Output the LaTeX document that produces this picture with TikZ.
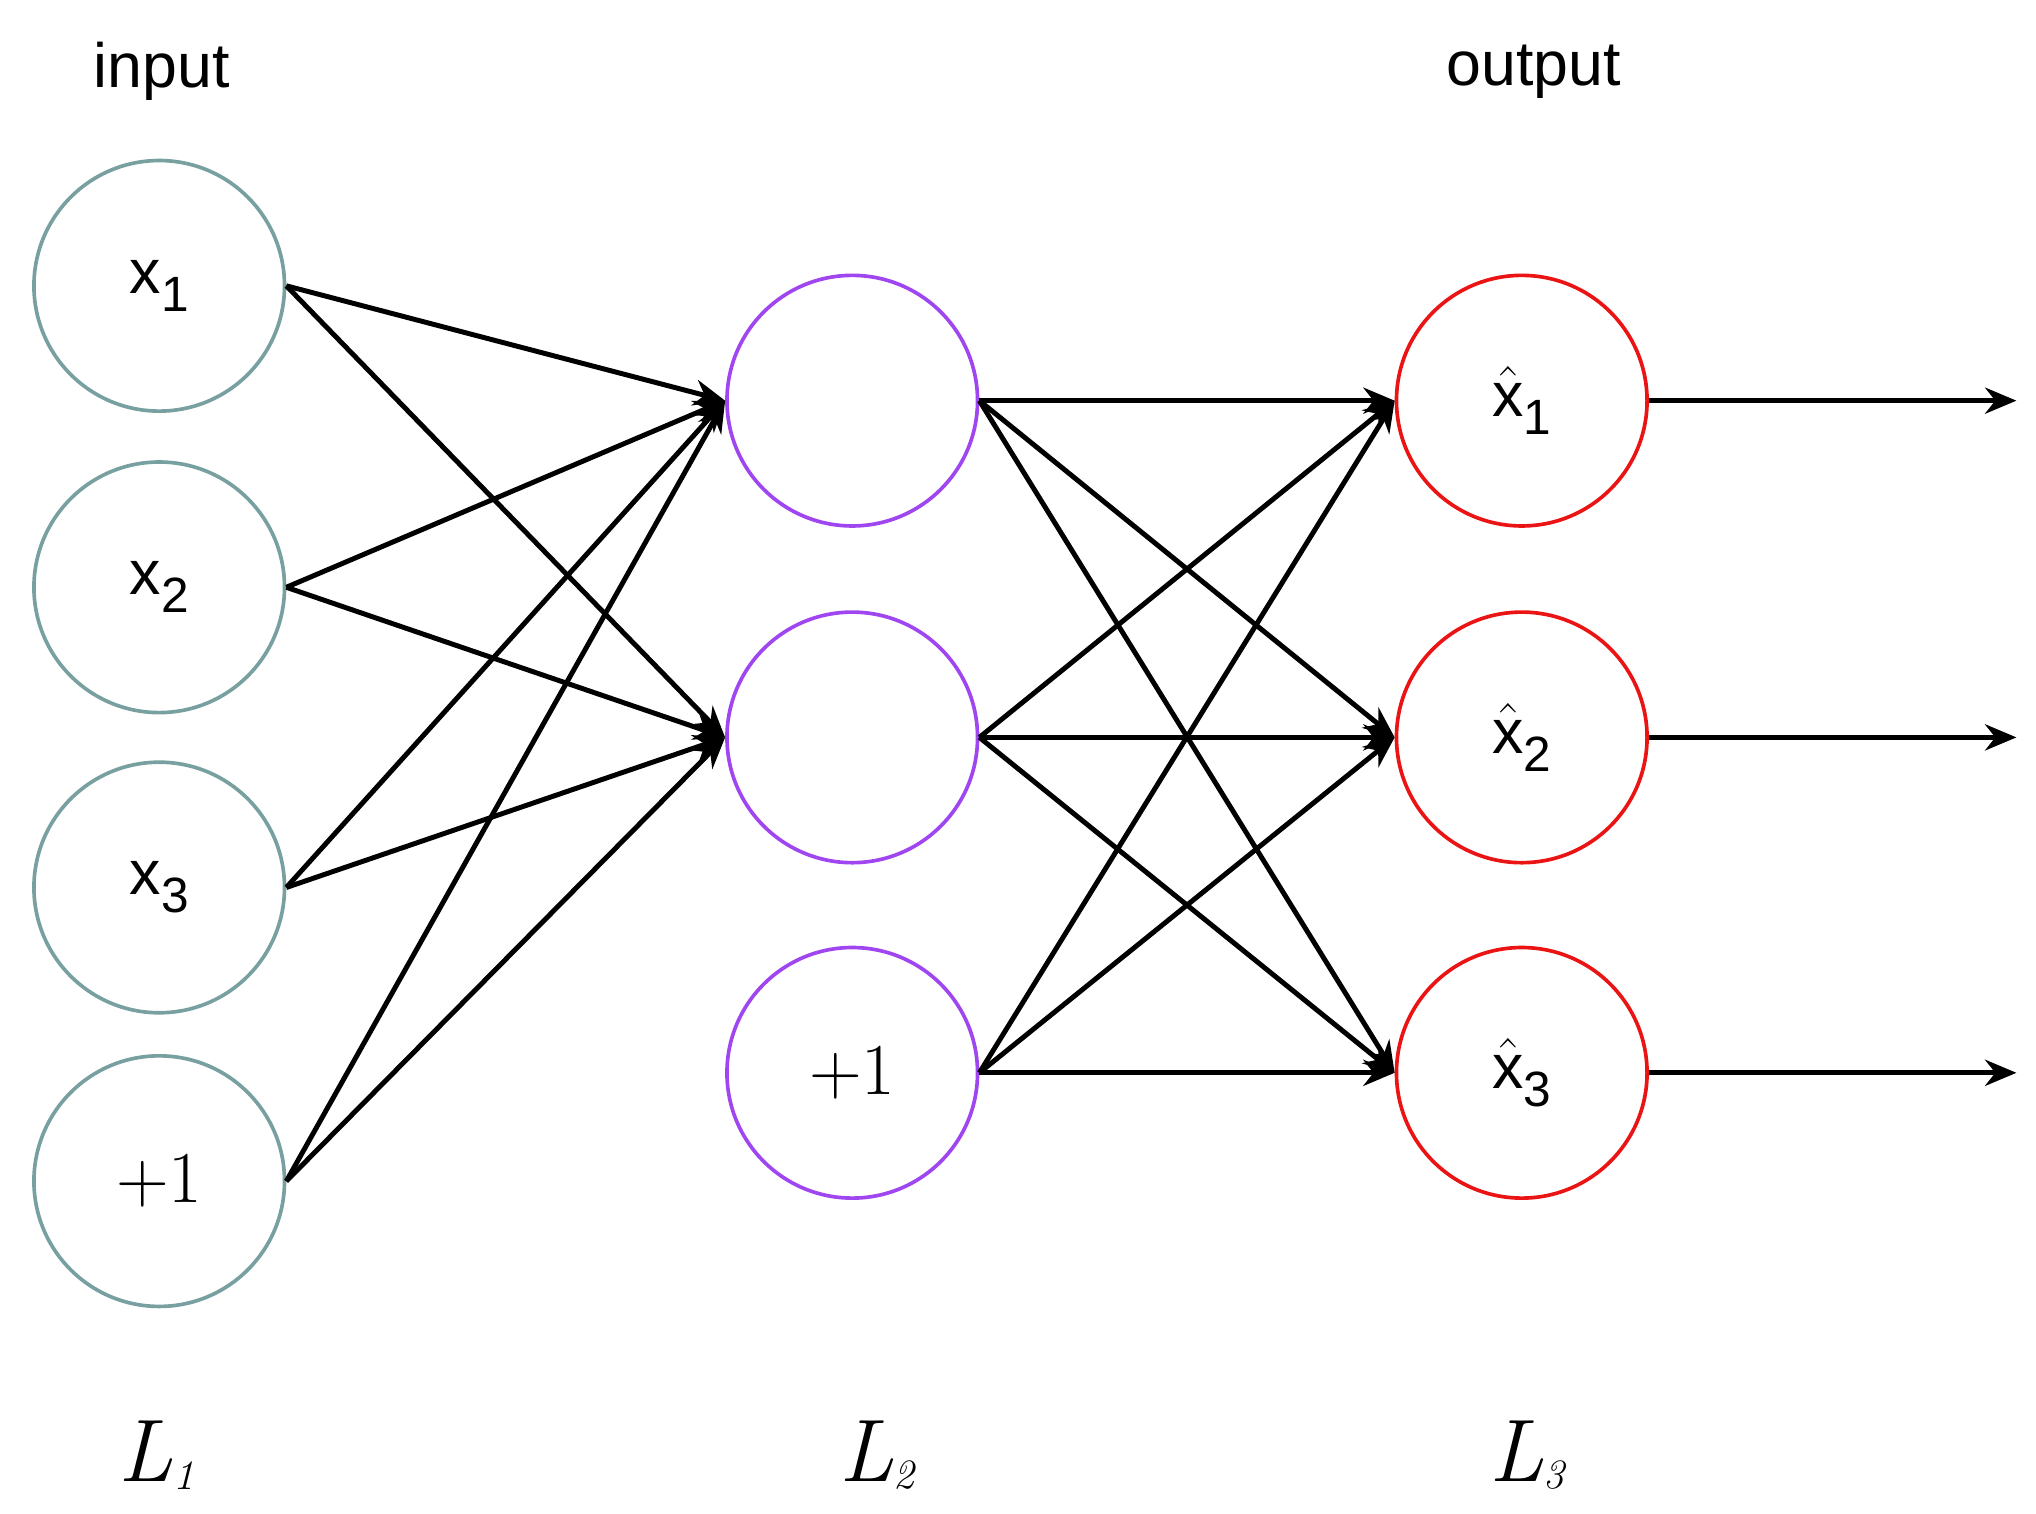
\documentclass[tikz,border=0pt]{standalone}
\usepackage{fontspec}
\setmainfont{Liberation Sans}
\newfontfamily\serifL{Latin Modern Roman}
\usetikzlibrary{arrows.meta}
\begin{document}
\begin{tikzpicture}[x=0.5pt,y=-0.5pt,
  neuron/.style={circle,minimum size=96pt,inner sep=0pt,line width=1.4pt},
  inp/.style={neuron,draw={rgb,255:red,120;green,160;blue,160}},
  hid/.style={neuron,draw={rgb,255:red,160;green,70;blue,240}},
  outn/.style={neuron,draw={rgb,255:red,235;green,20;blue,20}},
  lab/.style={font=\fontsize{24}{28}\selectfont},
  edge/.style={line width=1.9pt,-{Stealth[length=12pt,width=10pt]}},
  layer/.style={font=\serifL\itshape\fontsize{34}{38}\selectfont}]
\useasboundingbox (0,0) rectangle (1560,1160);
\newcommand{\sx}[2]{#1\raisebox{-0.55ex}{\fontsize{19}{20}\selectfont #2}}
\newcommand{\hx}{$\hat{\hbox{x}}$}
\node[lab] (tin) at (124,55) {input};
\node[lab] (tout) at (1175,55) {output};
\node[inp,lab] (a1) at (122,219) {\sx{x}{1}};
\node[inp,lab] (a2) at (122,450) {\sx{x}{2}};
\node[inp,lab] (a3) at (122,680) {\sx{x}{3}};
\node[inp,font=\serifL\fontsize{28}{30}\selectfont] (a4) at (122,905) {+1};
\node[hid] (h1) at (653,307) {};
\node[hid] (h2) at (653,565) {};
\node[hid,font=\serifL\fontsize{28}{30}\selectfont] (h3) at (653,822) {+1};
\node[outn,lab] (o1) at (1166,307) {\sx{\hx}{1}};
\node[outn,lab] (o2) at (1166,565) {\sx{\hx}{2}};
\node[outn,lab] (o3) at (1166,822) {\sx{\hx}{3}};
\coordinate (e1) at (1545,307);
\coordinate (e2) at (1545,565);
\coordinate (e3) at (1545,822);
\foreach \i in {1,2,3,4}{\foreach \j in {1,2}{\draw[edge] (a\i.east) -- (h\j.west);}}
\foreach \i in {1,2,3}{\foreach \j in {1,2,3}{\draw[edge] (h\i.east) -- (o\j.west);}}
\foreach \j in {1,2,3}{\draw[edge] (o\j.east) -- (e\j);}
\node[layer] (l1) at (120,1115) {L\raisebox{-0.2ex}{\fontsize{16}{16}\selectfont 1}};
\node[layer] (l2) at (672,1115) {L\raisebox{-0.2ex}{\fontsize{16}{16}\selectfont 2}};
\node[layer] (l3) at (1170,1115) {L\raisebox{-0.2ex}{\fontsize{16}{16}\selectfont 3}};
\end{tikzpicture}
\end{document}
